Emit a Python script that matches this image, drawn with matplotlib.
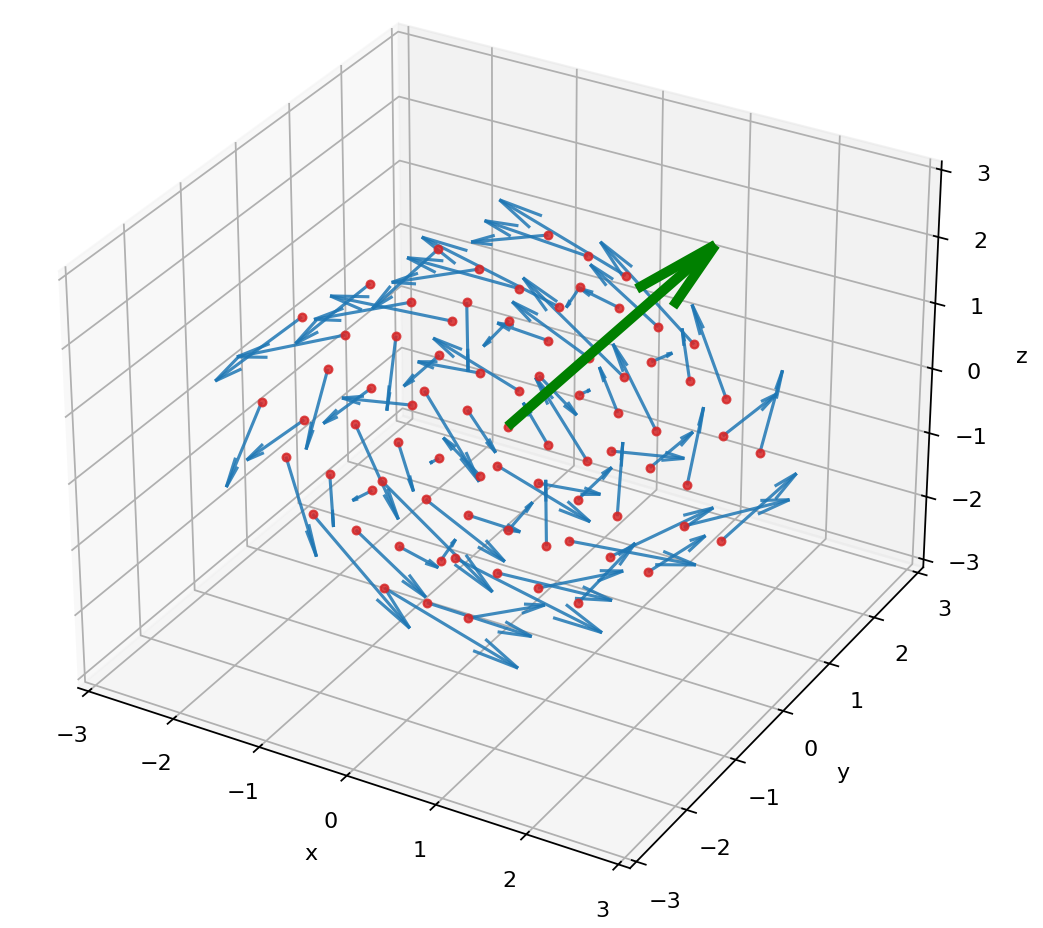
import numpy as np
import matplotlib
matplotlib.use('Agg')
import matplotlib.pyplot as plt

# Points on the sphere (tails of the blue arrows)
x = [-1.68,-1.81,-2.27,-2.14,-0.63,-1.27,-2.00,-1.71,-2.34,-2.11,-0.63,-0.41,0.01,-1.32,-1.25,-0.98,0.61,-0.62,-0.16,-1.56,0.35,-0.72,-0.06,0.33,1.03,0.53,1.06,1.58,1.84,0.14,-0.28,-1.72,-0.09,-1.82,-1.55,-0.17,-1.31,-0.47,-0.98,-1.28,-0.89,0.91,1.29,-0.02,0.46,-0.43,0.04,1.71,-1.30,-0.89,0.90,1.27,0.15,0.32,1.68,0.17,0.68,2.11,2.46,1.98,1.36,0.68,2.13,2.40,-0.31,0.09,-0.59,0.62,0.74,-0.31,0.97,0.49,0.38,0.16,1.56,1.80,1.72,1.30]
y = [0.16,1.16,-0.19,0.41,-1.08,-1.31,0.67,0.98,-0.86,-0.44,-1.85,1.51,1.57,0.88,1.56,1.91,0.34,2.10,-0.53,1.55,-0.60,2.06,-1.22,1.78,0.37,2.11,1.89,0.02,0.33,2.11,2.13,-1.40,-1.95,-0.44,-0.07,-2.13,-1.58,-2.13,-0.50,1.63,1.76,-0.99,-0.89,-1.57,-1.58,1.55,1.54,-1.00,0.83,0.96,-1.77,-1.64,1.15,-2.13,1.42,1.94,1.82,0.53,0.65,-0.72,1.23,1.02,-0.29,-0.01,-1.88,-1.74,-0.34,-2.09,-2.05,0.53,-1.90,-0.26,-1.44,0.49,-1.55,-1.17,-0.24,-0.89]
z = [1.42,0.46,0.92,0.31,1.81,1.23,-0.63,-0.99,0.03,-0.43,1.01,1.77,1.56,1.62,0.92,0.50,2.09,0.23,2.13,0.01,2.09,-0.31,1.83,1.25,1.91,0.33,0.40,1.54,1.15,-0.59,-0.46,-0.20,1.02,-1.16,-1.56,0.54,-0.79,-0.31,-1.91,-0.75,-0.97,1.74,1.54,1.55,1.46,-1.50,-1.57,0.95,-1.57,-1.77,0.94,0.74,-1.87,0.46,0.11,-1.03,-1.03,0.30,0.10,0.62,-1.22,-1.83,-0.49,-0.80,-1.30,-1.46,-2.09,-0.32,0.34,-2.11,-0.53,-2.13,-1.79,-2.14,-0.06,-0.47,-1.39,-1.57]

# Blue arrow components
u = [-0.11,-0.54,-0.15,-0.57,0.40,0.36,-0.10,-0.52,0.31,-0.12,0.85,-0.48,-0.92,-0.08,-0.51,-0.96,0.03,-1.39,0.43,-0.99,-0.01,-0.47,-0.04,-1.33,-0.38,-0.87,-1.29,0.08,-0.37,-1.33,-0.90,0.82,0.39,0.36,-0.07,1.37,1.34,0.86,0.40,-0.51,-0.94,0.47,0.04,0.89,0.44,-0.44,-0.89,0.52,-0.03,-0.50,0.93,0.47,0.04,0.87,-0.81,-0.43,-0.85,0.12,-0.34,0.07,-0.36,-0.42,0.57,0.12,1.37,0.90,-0.03,1.40,0.43,0.00,0.92,0.49,0.44,-0.42,0.98,0.48,0.10,0.03]
v = [-1.23,-1.00,-1.37,-1.13,-0.84,-0.99,-0.77,-0.51,-1.15,-0.89,-0.62,-0.71,-0.47,-1.14,-0.86,-0.61,-0.33,-0.39,-0.71,-0.76,-0.47,-0.23,-0.60,-0.23,-0.10,0.14,0.37,0.28,0.52,0.25,-0.01,-0.77,-0.37,-0.52,-0.27,-0.25,-0.39,-0.13,0.10,-0.39,-0.14,-0.10,0.15,-0.49,-0.22,0.26,0.49,0.51,-0.13,0.11,0.15,0.38,0.64,0.00,0.77,0.38,0.62,0.91,1.12,0.74,1.01,0.87,1.14,1.36,0.23,0.48,0.35,0.38,0.25,0.50,0.62,0.87,0.74,0.72,0.75,1.21,1.01,1.10]
w = [-0.16,0.17,-0.14,0.18,-0.40,-0.40,-0.08,0.25,-0.40,-0.07,-0.65,0.16,0.50,-0.21,0.15,0.51,-0.09,0.82,-0.41,0.51,-0.08,0.25,-0.08,0.82,0.21,0.56,0.87,-0.02,0.31,0.90,0.55,-0.66,-0.32,-0.32,0.00,-0.92,-0.92,-0.57,-0.24,0.24,0.57,-0.33,-0.01,-0.66,-0.31,0.32,0.65,-0.25,0.00,0.33,-0.56,-0.24,0.09,-0.57,0.64,0.31,0.63,0.08,0.38,0.06,0.40,0.41,-0.16,0.14,-0.82,-0.49,0.08,-0.81,-0.25,0.10,-0.48,-0.15,-0.15,0.38,-0.49,0.09,-0.11,0.15]

# Green arrow: tail and components
green_tail = [0.36, -0.64, 0.55]
green_vec = [1.51, 1.39, 2.35]
ticks = [-3, -2, -1, 0, 1, 2, 3]
limit = 3.125

fig = plt.figure(figsize=(1043 / 160, 928 / 160), dpi=160)
ax = fig.add_axes([0.0037, -0.0024, 0.9421, 1.0591], projection='3d', computed_zorder=False)
ax.apply_aspect = lambda pos=None: None  # keep the stretched axes box of the reference
ax.set_position([0.0037, -0.0024, 0.9421, 1.0591])
ax.set_xlim(-limit, limit)
ax.set_ylim(-limit, limit)
ax.set_zlim(-limit, limit)
ax.set_xticks(ticks)
ax.set_yticks(ticks)
ax.set_zticks(ticks)
ax.set_xlabel('x')
ax.set_ylabel('y')
ax.set_zlabel('z')

ax.quiver(x, y, z, u, v, w, color='tab:blue', alpha=0.85, linewidth=1.4, zorder=1)
ax.scatter(x + [green_tail[0]], y + [green_tail[1]], z + [green_tail[2]],
           color='tab:red', s=12, alpha=0.85, depthshade=False, zorder=2)
ax.quiver(*green_tail, *green_vec, color='green', linewidth=4.5, zorder=3)

fig.savefig('out.png', dpi=160)
